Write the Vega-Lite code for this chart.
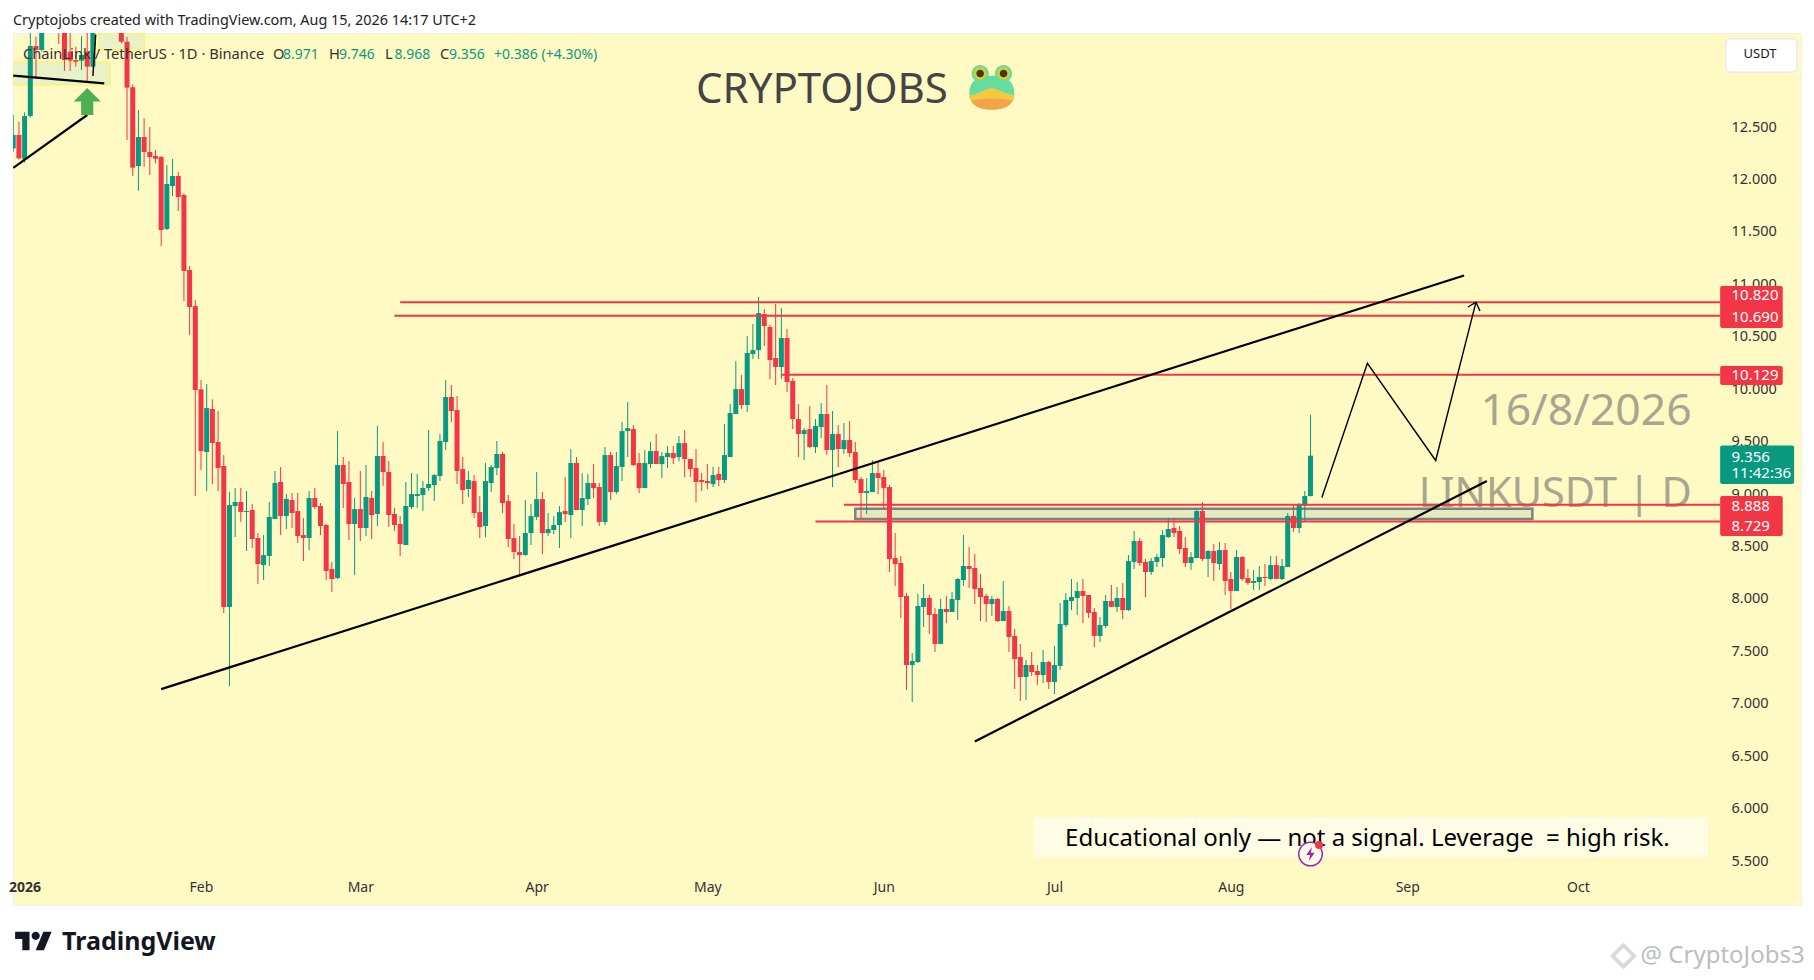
{
  "$schema": "https://vega.github.io/schema/vega-lite/v6.json",
  "description": "LINKUSDT daily candles with support and resistance levels and trend lines.",
  "autosize": "none",
  "width": 1788,
  "height": 872,
  "padding": {"left": 13, "top": 33, "right": 13, "bottom": 75},
  "background": "#FFFFFF",
  "view": {"fill": "#FFF9C4", "stroke": "#F0F0F0"},
  "config": {
    "font": "Noto Sans",
    "axis": {"grid": false, "domain": false, "ticks": false, "title": null}
  },
  "datasets": {
    "candles": [
      {"date":"2025-12-30","open":12.287,"high":12.605,"low":12.255,"close":12.414},
      {"date":"2025-12-31","open":12.414,"high":12.541,"low":12.18,"close":12.192},
      {"date":"2026-01-01","open":12.182,"high":12.63,"low":12.15,"close":12.595},
      {"date":"2026-01-02","open":12.595,"high":13.5,"low":12.579,"close":13.263},
      {"date":"2026-01-03","open":13.263,"high":13.352,"low":12.954,"close":13.225},
      {"date":"2026-01-04","open":13.225,"high":13.5,"low":13.21,"close":13.45},
      {"date":"2026-01-07","open":13.55,"high":13.6,"low":13.282,"close":13.45},
      {"date":"2026-01-08","open":13.45,"high":13.5,"low":13.024,"close":13.129},
      {"date":"2026-01-09","open":13.209,"high":13.45,"low":13.024,"close":13.123},
      {"date":"2026-01-10","open":13.129,"high":13.257,"low":13.066,"close":13.113},
      {"date":"2026-01-11","open":13.123,"high":13.358,"low":13.034,"close":13.177},
      {"date":"2026-01-12","open":13.209,"high":13.5,"low":12.923,"close":13.066},
      {"date":"2026-01-13","open":13.066,"high":13.5,"low":13.05,"close":13.45},
      {"date":"2026-01-18","open":13.45,"high":13.5,"low":13.29,"close":13.304},
      {"date":"2026-01-19","open":13.304,"high":13.35,"low":12.366,"close":12.866},
      {"date":"2026-01-20","open":12.869,"high":12.897,"low":12.023,"close":12.103},
      {"date":"2026-01-21","open":12.118,"high":12.652,"low":11.883,"close":12.395},
      {"date":"2026-01-22","open":12.395,"high":12.573,"low":12.112,"close":12.252},
      {"date":"2026-01-23","open":12.252,"high":12.49,"low":12.033,"close":12.204},
      {"date":"2026-01-24","open":12.214,"high":12.271,"low":12.144,"close":12.188},
      {"date":"2026-01-25","open":12.204,"high":12.214,"low":11.355,"close":11.508},
      {"date":"2026-01-26","open":11.518,"high":12.128,"low":11.508,"close":11.947},
      {"date":"2026-01-27","open":11.928,"high":12.185,"low":11.832,"close":12.023},
      {"date":"2026-01-28","open":12.023,"high":12.061,"low":11.689,"close":11.823},
      {"date":"2026-01-29","open":11.842,"high":11.858,"low":10.831,"close":11.117},
      {"date":"2026-01-30","open":11.127,"high":11.165,"low":10.507,"close":10.774},
      {"date":"2026-01-31","open":10.783,"high":10.84,"low":8.971,"close":9.982},
      {"date":"2026-02-01","open":9.988,"high":10.077,"low":9.219,"close":9.4},
      {"date":"2026-02-02","open":9.391,"high":10.039,"low":9.019,"close":9.81},
      {"date":"2026-02-03","open":9.801,"high":9.893,"low":9.086,"close":9.477},
      {"date":"2026-02-04","open":9.486,"high":9.782,"low":9.019,"close":9.238},
      {"date":"2026-02-05","open":9.257,"high":9.362,"low":7.855,"close":7.913},
      {"date":"2026-02-06","open":7.913,"high":9.009,"low":7.159,"close":8.885},
      {"date":"2026-02-07","open":8.876,"high":9.048,"low":8.58,"close":8.914},
      {"date":"2026-02-08","open":8.914,"high":9.048,"low":8.723,"close":8.819},
      {"date":"2026-02-09","open":8.819,"high":9.019,"low":8.447,"close":8.828},
      {"date":"2026-02-10","open":8.838,"high":8.895,"low":8.475,"close":8.561},
      {"date":"2026-02-11","open":8.571,"high":8.618,"low":8.132,"close":8.323},
      {"date":"2026-02-12","open":8.313,"high":8.599,"low":8.17,"close":8.408},
      {"date":"2026-02-13","open":8.399,"high":8.914,"low":8.304,"close":8.771},
      {"date":"2026-02-14","open":8.752,"high":9.21,"low":8.752,"close":9.095},
      {"date":"2026-02-15","open":9.105,"high":9.248,"low":8.599,"close":8.78},
      {"date":"2026-02-16","open":8.78,"high":8.99,"low":8.656,"close":8.943},
      {"date":"2026-02-17","open":8.933,"high":9.0,"low":8.666,"close":8.809},
      {"date":"2026-02-18","open":8.828,"high":9.0,"low":8.523,"close":8.59},
      {"date":"2026-02-19","open":8.599,"high":8.761,"low":8.351,"close":8.571},
      {"date":"2026-02-20","open":8.571,"high":9.019,"low":8.456,"close":8.952},
      {"date":"2026-02-21","open":8.952,"high":9.048,"low":8.847,"close":8.866},
      {"date":"2026-02-22","open":8.876,"high":8.904,"low":8.599,"close":8.685},
      {"date":"2026-02-23","open":8.695,"high":8.704,"low":8.17,"close":8.256},
      {"date":"2026-02-24","open":8.275,"high":8.342,"low":8.056,"close":8.18},
      {"date":"2026-02-25","open":8.189,"high":9.591,"low":8.18,"close":9.267},
      {"date":"2026-02-26","open":9.267,"high":9.343,"low":8.857,"close":9.086},
      {"date":"2026-02-27","open":9.105,"high":9.305,"low":8.552,"close":8.704},
      {"date":"2026-02-28","open":8.704,"high":8.952,"low":8.218,"close":8.847},
      {"date":"2026-03-01","open":8.847,"high":9.21,"low":8.542,"close":8.666},
      {"date":"2026-03-02","open":8.666,"high":9.267,"low":8.59,"close":8.962},
      {"date":"2026-03-03","open":8.952,"high":9.019,"low":8.561,"close":8.79},
      {"date":"2026-03-04","open":8.8,"high":9.639,"low":8.685,"close":9.353},
      {"date":"2026-03-05","open":9.353,"high":9.486,"low":9.067,"close":9.2},
      {"date":"2026-03-06","open":9.2,"high":9.305,"low":8.676,"close":8.79},
      {"date":"2026-03-07","open":8.8,"high":8.857,"low":8.637,"close":8.695},
      {"date":"2026-03-08","open":8.704,"high":8.78,"low":8.399,"close":8.513},
      {"date":"2026-03-09","open":8.504,"high":9.105,"low":8.504,"close":8.876},
      {"date":"2026-03-10","open":8.866,"high":9.191,"low":8.847,"close":8.99},
      {"date":"2026-03-11","open":8.971,"high":9.181,"low":8.857,"close":8.99},
      {"date":"2026-03-12","open":8.981,"high":9.114,"low":8.828,"close":9.048},
      {"date":"2026-03-13","open":9.048,"high":9.601,"low":9.019,"close":9.086},
      {"date":"2026-03-14","open":9.076,"high":9.181,"low":8.924,"close":9.171},
      {"date":"2026-03-15","open":9.162,"high":9.562,"low":9.114,"close":9.496},
      {"date":"2026-03-16","open":9.486,"high":10.077,"low":9.41,"close":9.915},
      {"date":"2026-03-17","open":9.915,"high":10.03,"low":9.677,"close":9.782},
      {"date":"2026-03-18","open":9.791,"high":9.925,"low":9.086,"close":9.21},
      {"date":"2026-03-19","open":9.228,"high":9.343,"low":8.895,"close":9.028},
      {"date":"2026-03-20","open":9.038,"high":9.209,"low":8.961,"close":9.124},
      {"date":"2026-03-21","open":9.114,"high":9.171,"low":8.761,"close":8.809},
      {"date":"2026-03-22","open":8.818,"high":8.971,"low":8.57,"close":8.675},
      {"date":"2026-03-23","open":8.685,"high":9.286,"low":8.58,"close":9.114},
      {"date":"2026-03-24","open":9.095,"high":9.267,"low":9.009,"close":9.248},
      {"date":"2026-03-25","open":9.238,"high":9.496,"low":9.171,"close":9.372},
      {"date":"2026-03-26","open":9.372,"high":9.391,"low":8.809,"close":8.904},
      {"date":"2026-03-27","open":8.923,"high":8.981,"low":8.485,"close":8.561},
      {"date":"2026-03-28","open":8.57,"high":8.704,"low":8.37,"close":8.437},
      {"date":"2026-03-29","open":8.437,"high":8.59,"low":8.208,"close":8.408},
      {"date":"2026-03-30","open":8.408,"high":8.933,"low":8.399,"close":8.618},
      {"date":"2026-03-31","open":8.618,"high":8.895,"low":8.504,"close":8.78},
      {"date":"2026-04-01","open":8.771,"high":9.2,"low":8.742,"close":8.942},
      {"date":"2026-04-02","open":8.942,"high":9.009,"low":8.418,"close":8.618},
      {"date":"2026-04-03","open":8.618,"high":8.809,"low":8.59,"close":8.656},
      {"date":"2026-04-04","open":8.647,"high":8.78,"low":8.609,"close":8.694},
      {"date":"2026-04-05","open":8.694,"high":8.876,"low":8.475,"close":8.818},
      {"date":"2026-04-06","open":8.828,"high":9.152,"low":8.723,"close":8.799},
      {"date":"2026-04-07","open":8.79,"high":9.419,"low":8.57,"close":9.286},
      {"date":"2026-04-08","open":9.286,"high":9.343,"low":8.837,"close":8.838},
      {"date":"2026-04-09","open":8.837,"high":9.19,"low":8.685,"close":8.952},
      {"date":"2026-04-10","open":8.942,"high":9.181,"low":8.885,"close":9.095},
      {"date":"2026-04-11","open":9.095,"high":9.276,"low":8.952,"close":9.047},
      {"date":"2026-04-12","open":9.057,"high":9.095,"low":8.685,"close":8.723},
      {"date":"2026-04-13","open":8.723,"high":9.438,"low":8.694,"close":9.362},
      {"date":"2026-04-14","open":9.362,"high":9.391,"low":8.933,"close":9.009},
      {"date":"2026-04-15","open":9.009,"high":9.391,"low":8.99,"close":9.257},
      {"date":"2026-04-16","open":9.248,"high":9.677,"low":9.114,"close":9.591},
      {"date":"2026-04-17","open":9.591,"high":9.867,"low":9.343,"close":9.619},
      {"date":"2026-04-18","open":9.61,"high":9.648,"low":9.257,"close":9.267},
      {"date":"2026-04-19","open":9.286,"high":9.381,"low":9.0,"close":9.047},
      {"date":"2026-04-20","open":9.047,"high":9.41,"low":9.047,"close":9.286},
      {"date":"2026-04-21","open":9.276,"high":9.486,"low":9.238,"close":9.4},
      {"date":"2026-04-22","open":9.4,"high":9.562,"low":9.276,"close":9.277},
      {"date":"2026-04-23","open":9.276,"high":9.391,"low":9.143,"close":9.352},
      {"date":"2026-04-24","open":9.343,"high":9.448,"low":9.238,"close":9.381},
      {"date":"2026-04-25","open":9.381,"high":9.448,"low":9.276,"close":9.333},
      {"date":"2026-04-26","open":9.343,"high":9.543,"low":9.305,"close":9.476},
      {"date":"2026-04-27","open":9.476,"high":9.6,"low":9.152,"close":9.324},
      {"date":"2026-04-28","open":9.324,"high":9.325,"low":9.152,"close":9.228},
      {"date":"2026-04-29","open":9.238,"high":9.419,"low":8.914,"close":9.105},
      {"date":"2026-04-30","open":9.124,"high":9.19,"low":9.019,"close":9.105},
      {"date":"2026-05-01","open":9.114,"high":9.276,"low":9.038,"close":9.095},
      {"date":"2026-05-02","open":9.085,"high":9.248,"low":9.057,"close":9.171},
      {"date":"2026-05-03","open":9.181,"high":9.248,"low":9.066,"close":9.124},
      {"date":"2026-05-04","open":9.124,"high":9.658,"low":9.095,"close":9.362},
      {"date":"2026-05-05","open":9.343,"high":9.848,"low":9.343,"close":9.763},
      {"date":"2026-05-06","open":9.753,"high":10.258,"low":9.753,"close":9.991},
      {"date":"2026-05-07","open":9.991,"high":10.125,"low":9.801,"close":9.839},
      {"date":"2026-05-08","open":9.839,"high":10.497,"low":9.772,"close":10.335},
      {"date":"2026-05-09","open":10.325,"high":10.611,"low":10.278,"close":10.363},
      {"date":"2026-05-10","open":10.363,"high":10.869,"low":10.278,"close":10.716},
      {"date":"2026-05-11","open":10.707,"high":10.754,"low":10.402,"close":10.592},
      {"date":"2026-05-12","open":10.583,"high":10.602,"low":10.087,"close":10.268},
      {"date":"2026-05-13","open":10.287,"high":10.802,"low":10.03,"close":10.201},
      {"date":"2026-05-14","open":10.201,"high":10.764,"low":10.087,"close":10.478},
      {"date":"2026-05-15","open":10.478,"high":10.564,"low":9.963,"close":10.058},
      {"date":"2026-05-16","open":10.068,"high":10.096,"low":9.61,"close":9.705},
      {"date":"2026-05-17","open":9.705,"high":9.848,"low":9.343,"close":9.562},
      {"date":"2026-05-18","open":9.562,"high":9.619,"low":9.314,"close":9.6},
      {"date":"2026-05-19","open":9.61,"high":9.829,"low":9.429,"close":9.438},
      {"date":"2026-05-20","open":9.438,"high":9.705,"low":9.381,"close":9.639},
      {"date":"2026-05-21","open":9.629,"high":9.858,"low":9.524,"close":9.753},
      {"date":"2026-05-22","open":9.753,"high":10.03,"low":9.362,"close":9.41},
      {"date":"2026-05-23","open":9.41,"high":9.782,"low":9.057,"close":9.562},
      {"date":"2026-05-24","open":9.562,"high":9.648,"low":9.248,"close":9.419},
      {"date":"2026-05-25","open":9.419,"high":9.667,"low":9.372,"close":9.505},
      {"date":"2026-05-26","open":9.505,"high":9.686,"low":9.343,"close":9.381},
      {"date":"2026-05-27","open":9.391,"high":9.486,"low":9.095,"close":9.124},
      {"date":"2026-05-28","open":9.133,"high":9.152,"low":8.761,"close":9.0},
      {"date":"2026-05-29","open":9.0,"high":9.143,"low":8.799,"close":9.019},
      {"date":"2026-05-30","open":9.009,"high":9.314,"low":9.009,"close":9.19},
      {"date":"2026-05-31","open":9.19,"high":9.305,"low":8.99,"close":9.143},
      {"date":"2026-06-01","open":9.152,"high":9.219,"low":8.847,"close":9.047},
      {"date":"2026-06-02","open":9.057,"high":9.076,"low":8.246,"close":8.37},
      {"date":"2026-06-03","open":8.38,"high":8.618,"low":8.113,"close":8.322},
      {"date":"2026-06-04","open":8.332,"high":8.399,"low":7.808,"close":8.008},
      {"date":"2026-06-05","open":8.018,"high":8.046,"low":7.121,"close":7.36},
      {"date":"2026-06-06","open":7.36,"high":7.474,"low":7.007,"close":7.398},
      {"date":"2026-06-07","open":7.388,"high":8.037,"low":7.379,"close":7.922},
      {"date":"2026-06-08","open":7.913,"high":8.132,"low":7.722,"close":7.999},
      {"date":"2026-06-09","open":7.999,"high":8.027,"low":7.655,"close":7.837},
      {"date":"2026-06-10","open":7.846,"high":7.903,"low":7.484,"close":7.56},
      {"date":"2026-06-11","open":7.56,"high":7.989,"low":7.56,"close":7.894},
      {"date":"2026-06-12","open":7.894,"high":8.018,"low":7.76,"close":7.865},
      {"date":"2026-06-13","open":7.865,"high":8.056,"low":7.865,"close":7.989},
      {"date":"2026-06-14","open":7.98,"high":8.189,"low":7.789,"close":8.18},
      {"date":"2026-06-15","open":8.17,"high":8.599,"low":8.113,"close":8.304},
      {"date":"2026-06-16","open":8.304,"high":8.485,"low":8.094,"close":8.275},
      {"date":"2026-06-17","open":8.285,"high":8.418,"low":7.941,"close":8.084},
      {"date":"2026-06-18","open":8.094,"high":8.228,"low":7.779,"close":8.008},
      {"date":"2026-06-19","open":8.018,"high":8.037,"low":7.77,"close":7.941},
      {"date":"2026-06-20","open":7.941,"high":8.018,"low":7.827,"close":7.989},
      {"date":"2026-06-21","open":7.989,"high":7.999,"low":7.77,"close":7.779},
      {"date":"2026-06-22","open":7.779,"high":8.161,"low":7.779,"close":7.875},
      {"date":"2026-06-23","open":7.875,"high":7.922,"low":7.484,"close":7.627},
      {"date":"2026-06-24","open":7.636,"high":7.703,"low":7.131,"close":7.417},
      {"date":"2026-06-25","open":7.436,"high":7.56,"low":7.016,"close":7.245},
      {"date":"2026-06-26","open":7.245,"high":7.407,"low":7.026,"close":7.36},
      {"date":"2026-06-27","open":7.36,"high":7.484,"low":7.255,"close":7.293},
      {"date":"2026-06-28","open":7.302,"high":7.36,"low":7.169,"close":7.264},
      {"date":"2026-06-29","open":7.264,"high":7.503,"low":7.188,"close":7.388},
      {"date":"2026-06-30","open":7.388,"high":7.398,"low":7.131,"close":7.198},
      {"date":"2026-07-01","open":7.198,"high":7.541,"low":7.083,"close":7.36},
      {"date":"2026-07-02","open":7.35,"high":7.951,"low":7.312,"close":7.751},
      {"date":"2026-07-03","open":7.741,"high":8.046,"low":7.722,"close":7.98},
      {"date":"2026-07-04","open":7.97,"high":8.18,"low":7.884,"close":8.008},
      {"date":"2026-07-05","open":7.999,"high":8.151,"low":7.837,"close":8.065},
      {"date":"2026-07-06","open":8.065,"high":8.18,"low":7.76,"close":8.018},
      {"date":"2026-07-07","open":8.027,"high":8.028,"low":7.808,"close":7.856},
      {"date":"2026-07-08","open":7.865,"high":7.903,"low":7.531,"close":7.636},
      {"date":"2026-07-09","open":7.636,"high":7.817,"low":7.579,"close":7.741},
      {"date":"2026-07-10","open":7.732,"high":8.027,"low":7.712,"close":7.97},
      {"date":"2026-07-11","open":7.97,"high":8.123,"low":7.913,"close":7.914},
      {"date":"2026-07-12","open":7.913,"high":8.104,"low":7.865,"close":7.999},
      {"date":"2026-07-13","open":7.999,"high":8.142,"low":7.798,"close":7.884},
      {"date":"2026-07-14","open":7.884,"high":8.409,"low":7.875,"close":8.351},
      {"date":"2026-07-15","open":8.342,"high":8.638,"low":8.275,"close":8.542},
      {"date":"2026-07-16","open":8.542,"high":8.571,"low":8.304,"close":8.332},
      {"date":"2026-07-17","open":8.342,"high":8.371,"low":8.008,"close":8.247},
      {"date":"2026-07-18","open":8.247,"high":8.38,"low":8.218,"close":8.351},
      {"date":"2026-07-19","open":8.342,"high":8.418,"low":8.294,"close":8.39},
      {"date":"2026-07-20","open":8.38,"high":8.647,"low":8.294,"close":8.599},
      {"date":"2026-07-21","open":8.58,"high":8.762,"low":8.571,"close":8.657},
      {"date":"2026-07-22","open":8.666,"high":8.762,"low":8.58,"close":8.619},
      {"date":"2026-07-23","open":8.638,"high":8.685,"low":8.418,"close":8.466},
      {"date":"2026-07-24","open":8.476,"high":8.58,"low":8.294,"close":8.332},
      {"date":"2026-07-25","open":8.332,"high":8.437,"low":8.266,"close":8.39},
      {"date":"2026-07-26","open":8.38,"high":8.847,"low":8.38,"close":8.828},
      {"date":"2026-07-27","open":8.828,"high":8.914,"low":8.351,"close":8.371},
      {"date":"2026-07-28","open":8.371,"high":8.456,"low":8.199,"close":8.447},
      {"date":"2026-07-29","open":8.447,"high":8.514,"low":8.161,"close":8.332},
      {"date":"2026-07-30","open":8.323,"high":8.533,"low":8.266,"close":8.456},
      {"date":"2026-07-31","open":8.456,"high":8.523,"low":8.027,"close":8.161},
      {"date":"2026-08-01","open":8.18,"high":8.247,"low":7.894,"close":8.065},
      {"date":"2026-08-02","open":8.065,"high":8.456,"low":8.065,"close":8.39},
      {"date":"2026-08-03","open":8.39,"high":8.399,"low":8.161,"close":8.18},
      {"date":"2026-08-04","open":8.189,"high":8.275,"low":8.123,"close":8.142},
      {"date":"2026-08-05","open":8.142,"high":8.266,"low":8.075,"close":8.161},
      {"date":"2026-08-06","open":8.151,"high":8.304,"low":8.075,"close":8.199},
      {"date":"2026-08-07","open":8.199,"high":8.323,"low":8.113,"close":8.189},
      {"date":"2026-08-08","open":8.18,"high":8.399,"low":8.17,"close":8.313},
      {"date":"2026-08-09","open":8.313,"high":8.399,"low":8.18,"close":8.181},
      {"date":"2026-08-10","open":8.18,"high":8.371,"low":8.17,"close":8.304},
      {"date":"2026-08-11","open":8.294,"high":8.809,"low":8.294,"close":8.781},
      {"date":"2026-08-12","open":8.781,"high":8.886,"low":8.628,"close":8.666},
      {"date":"2026-08-13","open":8.666,"high":8.905,"low":8.619,"close":8.886},
      {"date":"2026-08-14","open":8.876,"high":9.019,"low":8.723,"close":8.971},
      {"date":"2026-08-15","open":8.971,"high":9.746,"low":8.968,"close":9.356}
    ],
    "levels": [
      {"date":"2026-03-08","end":"2026-10-26","price":10.82},
      {"date":"2026-03-07","end":"2026-10-26","price":10.69},
      {"date":"2026-05-14","end":"2026-10-26","price":10.129},
      {"date":"2026-05-25","end":"2026-10-26","price":8.888},
      {"date":"2026-05-20","end":"2026-10-26","price":8.729}
    ],
    "trends": [
      {"shape":"long","date":"2026-01-25","price":7.13},
      {"shape":"long","date":"2026-09-11","price":11.075},
      {"shape":"lower","date":"2026-06-17","price":6.63},
      {"shape":"lower","date":"2026-09-15","price":9.114},
      {"shape":"oldRise","date":"2025-12-30","price":12.1},
      {"shape":"oldRise","date":"2026-01-12","price":12.605},
      {"shape":"oldFlat","date":"2025-12-30","price":12.98},
      {"shape":"oldFlat","date":"2026-01-15","price":12.907}
    ],
    "forecast": [
      {"shape":"oldStub","date":"2026-01-13","price":12.977},
      {"shape":"oldStub","date":"2026-01-13T12:00:00Z","price":13.37},
      {"shape":"path","date":"2026-08-17","price":8.957},
      {"shape":"path","date":"2026-08-25","price":10.237},
      {"shape":"path","date":"2026-09-06","price":9.31},
      {"shape":"path","date":"2026-09-13T02:00:00Z","price":10.82},
      {"shape":"head","date":"2026-09-11T16:00:00Z","price":10.774},
      {"shape":"head","date":"2026-09-13T02:00:00Z","price":10.82},
      {"shape":"head","date":"2026-09-13T19:00:00Z","price":10.736}
    ],
    "zone": [{"date":"2026-05-27","end":"2026-09-23","top":8.85,"bottom":8.752}],
    "oldZones": [
      {"date":"2025-12-30","end":"2026-01-16","top":13.11,"bottom":12.891},
      {"date":"2026-01-14","end":"2026-01-22","top":13.38,"bottom":13.225}
    ],
    "disclaimerBox": [{"date":"2026-06-27T09:00:00Z","end":"2026-10-23T21:00:00Z","top":5.91,"bottom":5.529}],
    "unitBox": [{"date":"2026-10-27","end":"2026-11-08T12:00:00Z","top":13.33,"bottom":13.015}],
    "tagBoxes": [
      {"date":"2026-10-26","end":"2026-11-06","top":10.974,"bottom":10.574,"kind":"red"},
      {"date":"2026-10-26","end":"2026-11-06","top":10.211,"bottom":10.03,"kind":"red"},
      {"date":"2026-10-26","end":"2026-11-06","top":8.971,"bottom":8.59,"kind":"red"},
      {"date":"2026-10-26","end":"2026-11-08","top":9.453,"bottom":9.086,"kind":"green"}
    ],
    "tagTexts": [
      {"date":"2026-10-28","price":10.888,"label":"10.820"},
      {"date":"2026-10-28","price":10.678,"label":"10.690"},
      {"date":"2026-10-28","price":10.129,"label":"10.129"},
      {"date":"2026-10-28","price":9.343,"label":"9.356"},
      {"date":"2026-10-28","price":9.191,"label":"11:42:36"},
      {"date":"2026-10-28","price":8.88,"label":"8.888"},
      {"date":"2026-10-28","price":8.685,"label":"8.729"}
    ],
    "legendDark": [
      {"date":"2025-12-31T17:00:00Z","price":13.18,"label":"ChainLink / TetherUS · 1D · Binance"},
      {"date":"2026-02-13T16:00:00Z","price":13.18,"label":"O"},
      {"date":"2026-02-23T12:00:00Z","price":13.18,"label":"H"},
      {"date":"2026-03-05T08:00:00Z","price":13.18,"label":"L"},
      {"date":"2026-03-15T00:00:00Z","price":13.18,"label":"C"}
    ],
    "legendGreen": [
      {"date":"2026-02-15T10:00:00Z","price":13.18,"label":"8.971"},
      {"date":"2026-02-25T06:00:00Z","price":13.18,"label":"9.746"},
      {"date":"2026-03-07T00:00:00Z","price":13.18,"label":"8.968"},
      {"date":"2026-03-16T14:00:00Z","price":13.18,"label":"9.356"},
      {"date":"2026-03-24T12:00:00Z","price":13.18,"label":"+0.386 (+4.30%)"}
    ],
    "icons": [
      {"part":"arrow","date":"2026-01-12","price":12.734},
      {"part":"frogHead","date":"2026-06-20","price":12.872},
      {"part":"frogBelly","date":"2026-06-20","price":12.872},
      {"part":"frogChin","date":"2026-06-20","price":12.872},
      {"part":"frogEyes","date":"2026-06-20","price":12.872},
      {"part":"frogPupils","date":"2026-06-20","price":12.872},
      {"part":"boltRing","date":"2026-08-15","price":5.557},
      {"part":"boltInner","date":"2026-08-15","price":5.557},
      {"part":"bolt","date":"2026-08-15","price":5.557},
      {"part":"boltDot","date":"2026-08-16T12:00:00Z","price":5.643},
      {"part":"logo","date":"2026-01-02T14:00:00Z","price":4.718},
      {"part":"stamp","date":"2026-10-09","price":4.585}
    ]
  },
  "layer": [
    {
      "data": {"name": "zone"},
      "mark": {"type": "rect", "fill": "#E1EBBE", "stroke": "#808080", "strokeWidth": 2.5},
      "encoding": {
        "x": {
          "field": "date",
          "type": "temporal",
          "title": null,
          "scale": {
            "type": "utc",
            "padding": 0,
            "domain": [
              {"year": 2025, "month": 12, "date": 29, "hours": 23, "utc": true},
              {"year": 2026, "month": 11, "date": 9, "hours": 5, "utc": true}
            ]
          },
          "axis": {
            "orient": "bottom",
            "offset": -28,
            "labelPadding": 3,
            "labelFontSize": 14,
            "labelColor": "#333333",
            "labelOverlap": false,
            "labelBound": false,
            "labelFlush": false,
            "labelFontWeight": {"expr": "utcmonth(datum.value) === 0 ? 'bold' : 'normal'"},
            "labelExpr": "utcmonth(datum.value) === 0 ? '2026' : utcFormat(datum.value, '%b')",
            "values": [
              {"year": 2026, "month": 1, "date": 1, "utc": true},
              {"year": 2026, "month": 2, "date": 1, "utc": true},
              {"year": 2026, "month": 3, "date": 1, "utc": true},
              {"year": 2026, "month": 4, "date": 1, "utc": true},
              {"year": 2026, "month": 5, "date": 1, "utc": true},
              {"year": 2026, "month": 6, "date": 1, "utc": true},
              {"year": 2026, "month": 7, "date": 1, "utc": true},
              {"year": 2026, "month": 8, "date": 1, "utc": true},
              {"year": 2026, "month": 9, "date": 1, "utc": true},
              {"year": 2026, "month": 10, "date": 1, "utc": true}
            ]
          }
        },
        "x2": {"field": "end"},
        "y": {
          "field": "top",
          "type": "quantitative",
          "title": null,
          "scale": {"domain": [5.071, 13.387], "nice": false, "zero": false, "padding": 0},
          "axis": {
            "orient": "right",
            "offset": -81,
            "labelPadding": 11,
            "labelOffset": 1,
            "labelFontSize": 14.5,
            "labelColor": "#333333",
            "labelBound": false,
            "labelFlush": false,
            "labelOverlap": false,
            "format": ".3f",
            "values": [5.5, 6, 6.5, 7, 7.5, 8, 8.5, 9, 9.5, 10, 10.5, 11, 11.5, 12, 12.5]
          }
        },
        "y2": {"field": "bottom"}
      }
    },
    {
      "data": {"name": "oldZones"},
      "mark": {"type": "rect", "fill": "#E9F2C6", "stroke": "#FFF176", "strokeWidth": 1.5, "clip": true},
      "encoding": {
        "x": {"field": "date", "type": "temporal"},
        "x2": {"field": "end"},
        "y": {"field": "top", "type": "quantitative"},
        "y2": {"field": "bottom"}
      }
    },
    {
      "data": {"name": "candles"},
      "mark": {"type": "rule", "strokeWidth": 1, "clip": true},
      "encoding": {
        "x": {"field": "date", "type": "temporal"},
        "y": {"field": "low", "type": "quantitative"},
        "y2": {"field": "high"},
        "color": {"condition": {"test": "datum.close >= datum.open", "value": "#089981"}, "value": "#F23645"}
      }
    },
    {
      "data": {"name": "candles"},
      "mark": {"type": "bar", "size": 5, "clip": true},
      "encoding": {
        "x": {"field": "date", "type": "temporal"},
        "y": {"field": "open", "type": "quantitative"},
        "y2": {"field": "close"},
        "color": {"condition": {"test": "datum.close >= datum.open", "value": "#089981"}, "value": "#F23645"}
      }
    },
    {
      "data": {"values": [{"date": "2026-10-21", "price": 9.773, "label": "16/8/2026"}]},
      "mark": {"type": "text", "align": "right", "baseline": "middle", "fontSize": 44.5, "fill": "#A8A68C"},
      "encoding": {
        "x": {"field": "date", "type": "temporal"},
        "y": {"field": "price", "type": "quantitative"},
        "text": {"field": "label"}
      }
    },
    {
      "data": {"values": [{"date": "2026-10-21", "price": 8.98, "label": "LINKUSDT | D"}]},
      "mark": {"type": "text", "align": "right", "baseline": "middle", "fontSize": 41.5, "fill": "#A8A68C"},
      "encoding": {
        "x": {"field": "date", "type": "temporal"},
        "y": {"field": "price", "type": "quantitative"},
        "text": {"field": "label"}
      }
    },
    {
      "data": {"name": "levels"},
      "mark": {"type": "rule", "stroke": "#F23645", "strokeWidth": 2},
      "encoding": {
        "x": {"field": "date", "type": "temporal"},
        "x2": {"field": "end"},
        "y": {"field": "price", "type": "quantitative"}
      }
    },
    {
      "data": {"name": "trends"},
      "mark": {"type": "line", "stroke": "#000000", "strokeWidth": 2.2, "clip": true},
      "encoding": {
        "x": {"field": "date", "type": "temporal"},
        "y": {"field": "price", "type": "quantitative"},
        "detail": {"field": "shape"}
      }
    },
    {
      "data": {"name": "forecast"},
      "mark": {"type": "line", "stroke": "#000000", "strokeWidth": 1.4},
      "encoding": {
        "x": {"field": "date", "type": "temporal"},
        "y": {"field": "price", "type": "quantitative"},
        "detail": {"field": "shape"}
      }
    },
    {
      "data": {"name": "tagBoxes"},
      "mark": {"type": "rect", "cornerRadius": 2},
      "encoding": {
        "x": {"field": "date", "type": "temporal"},
        "x2": {"field": "end"},
        "y": {"field": "top", "type": "quantitative"},
        "y2": {"field": "bottom"},
        "color": {"field": "kind", "type": "nominal", "scale": {"domain": ["red", "green"], "range": ["#F23645", "#089981"]}, "legend": null}
      }
    },
    {
      "data": {"name": "tagTexts"},
      "mark": {"type": "text", "align": "left", "baseline": "middle", "fontSize": 15, "fill": "#FFFFFF"},
      "encoding": {
        "x": {"field": "date", "type": "temporal"},
        "y": {"field": "price", "type": "quantitative"},
        "text": {"field": "label"}
      }
    },
    {
      "data": {"name": "unitBox"},
      "mark": {"type": "rect", "fill": "#FFFFFF", "stroke": "#E0E3EB", "cornerRadius": 4},
      "encoding": {
        "x": {"field": "date", "type": "temporal"},
        "x2": {"field": "end"},
        "y": {"field": "top", "type": "quantitative"},
        "y2": {"field": "bottom"}
      }
    },
    {
      "data": {"values": [{"date": "2026-11-02", "price": 13.187, "label": "USDT"}]},
      "mark": {"type": "text", "align": "center", "baseline": "middle", "fontSize": 13, "fill": "#131722"},
      "encoding": {
        "x": {"field": "date", "type": "temporal"},
        "y": {"field": "price", "type": "quantitative"},
        "text": {"field": "label"}
      }
    },
    {
      "data": {"name": "disclaimerBox"},
      "mark": {"type": "rect", "fill": "#FFFCE6"},
      "encoding": {
        "x": {"field": "date", "type": "temporal"},
        "x2": {"field": "end"},
        "y": {"field": "top", "type": "quantitative"},
        "y2": {"field": "bottom"}
      }
    },
    {
      "data": {"values": [{"date": "2026-08-25", "price": 5.7, "label": "Educational only — not a signal. Leverage\u00a0 = high risk."}]},
      "mark": {"type": "text", "align": "center", "baseline": "middle", "fontSize": 24, "fill": "#000000"},
      "encoding": {
        "x": {"field": "date", "type": "temporal"},
        "y": {"field": "price", "type": "quantitative"},
        "text": {"field": "label"}
      }
    },
    {
      "data": {"values": [{"date": "2026-04-29", "price": 12.845, "label": "CRYPTOJOBS"}]},
      "mark": {"type": "text", "align": "left", "baseline": "middle", "fontSize": 42, "fill": "#444444"},
      "encoding": {
        "x": {"field": "date", "type": "temporal"},
        "y": {"field": "price", "type": "quantitative"},
        "text": {"field": "label"}
      }
    },
    {
      "data": {"name": "legendDark"},
      "mark": {"type": "text", "align": "left", "baseline": "middle", "fontSize": 14.7, "fill": "#333333"},
      "encoding": {
        "x": {"field": "date", "type": "temporal"},
        "y": {"field": "price", "type": "quantitative"},
        "text": {"field": "label"}
      }
    },
    {
      "data": {"name": "legendGreen"},
      "mark": {"type": "text", "align": "left", "baseline": "middle", "fontSize": 14, "fill": "#089981"},
      "encoding": {
        "x": {"field": "date", "type": "temporal"},
        "y": {"field": "price", "type": "quantitative"},
        "text": {"field": "label"}
      }
    },
    {
      "data": {"values": [{"date": "2025-12-29T23:00:00Z", "price": 13.5, "label": "Cryptojobs created with TradingView.com, Aug 15, 2026 14:17 UTC+2"}]},
      "mark": {"type": "text", "align": "left", "baseline": "middle", "fontSize": 14.4, "fill": "#222222"},
      "encoding": {
        "x": {"field": "date", "type": "temporal"},
        "y": {"field": "price", "type": "quantitative"},
        "text": {"field": "label"}
      }
    },
    {
      "data": {"values": [{"date": "2026-01-07T14:00:00Z", "price": 4.718, "label": "TradingView"}]},
      "mark": {"type": "text", "align": "left", "baseline": "middle", "fontSize": 25, "fontWeight": "bold", "fill": "#131722"},
      "encoding": {
        "x": {"field": "date", "type": "temporal"},
        "y": {"field": "price", "type": "quantitative"},
        "text": {"field": "label"}
      }
    },
    {
      "data": {"values": [{"date": "2026-10-12", "price": 4.585, "label": "@ CryptoJobs3"}]},
      "mark": {"type": "text", "align": "left", "baseline": "middle", "fontSize": 24, "fill": "#BDBDBD"},
      "encoding": {
        "x": {"field": "date", "type": "temporal"},
        "y": {"field": "price", "type": "quantitative"},
        "text": {"field": "label"}
      }
    },
    {
      "data": {"name": "icons"},
      "mark": {"type": "point", "filled": true, "opacity": 1, "strokeWidth": 0},
      "encoding": {
        "x": {"field": "date", "type": "temporal"},
        "y": {"field": "price", "type": "quantitative"},
        "shape": {
          "field": "part",
          "type": "nominal",
          "legend": null,
          "scale": {
            "domain": ["arrow", "frogHead", "frogBelly", "frogChin", "frogEyes", "frogPupils", "boltRing", "boltInner", "bolt", "boltDot", "logo", "stamp"],
            "range": [
              "M0,-1 L1,0 L.45,0 L.45,1 L-.45,1 L-.45,0 L-1,0Z",
              "M-1,.3 C-1,-.3 -.6,-.5 0,-.5 C.6,-.5 1,-.3 1,.3 C1,.8 .6,1 0,1 C-.6,1 -1,.8 -1,.3Z M-.9,-.6 A.38,.38 0 1 1 -.14,-.6 A.38,.38 0 1 1 -.9,-.6Z M.14,-.6 A.38,.38 0 1 1 .9,-.6 A.38,.38 0 1 1 .14,-.6Z",
              "M-1,.35 C-.6,.35 -.3,.05 0,.05 C.3,.05 .6,.35 1,.35 C1,.8 .6,1 0,1 C-.6,1 -1,.8 -1,.35Z",
              "M-.9,.6 C-.5,.5 .5,.5 .9,.6 C.8,.85 .5,1 0,1 C-.5,1 -.8,.85 -.9,.6Z",
              "M-.79,-.6 A.27,.27 0 1 1 -.25,-.6 A.27,.27 0 1 1 -.79,-.6Z M.25,-.6 A.27,.27 0 1 1 .79,-.6 A.27,.27 0 1 1 .25,-.6Z",
              "M-.69,-.6 A.17,.17 0 1 1 -.35,-.6 A.17,.17 0 1 1 -.69,-.6Z M.35,-.6 A.17,.17 0 1 1 .69,-.6 A.17,.17 0 1 1 .35,-.6Z",
              "circle",
              "circle",
              "M.2,-1 L-.6,.15 L-.05,.15 L-.25,1 L.6,-.2 L.05,-.2 Z",
              "circle",
              "M-.222,.444 H-.611 V-.167 H-1 V-.556 H-.222 Z M.556,.444 H.111 L.528,-.556 H.972 Z M-.111,-.333 A.222,.222 0 1 1 .333,-.333 A.222,.222 0 1 1 -.111,-.333Z",
              "M0,-1 L1,0 L0,1 L-1,0Z M0,-.6 L-.6,0 L0,.6 L.6,0Z"
            ]
          }
        },
        "fill": {
          "field": "part",
          "type": "nominal",
          "legend": null,
          "scale": {
            "domain": ["arrow", "frogHead", "frogBelly", "frogChin", "frogEyes", "frogPupils", "boltRing", "boltInner", "bolt", "boltDot", "logo", "stamp"],
            "range": ["#4CAF50", "#66DDA0", "#F5C842", "#F6A24B", "#F5C518", "#3A3A2E", "#9C27B0", "#FFFCE6", "#9C27B0", "#F23645", "#131722", "#D9D9D9"]
          }
        },
        "size": {
          "field": "part",
          "type": "nominal",
          "legend": null,
          "scale": {
            "type": "ordinal",
            "domain": ["arrow", "frogHead", "frogBelly", "frogChin", "frogEyes", "frogPupils", "boltRing", "boltInner", "bolt", "boltDot", "logo", "stamp"],
            "range": [729, 2025, 2025, 2025, 2025, 2025, 625, 484, 196, 64, 1369, 729]
          }
        }
      }
    }
  ]
}
